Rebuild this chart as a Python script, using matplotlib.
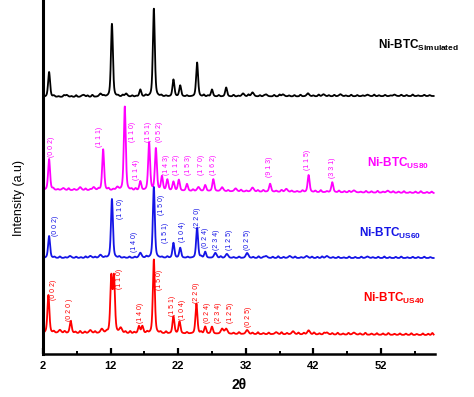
import numpy as np
import matplotlib
matplotlib.use("Agg")
import matplotlib.pyplot as plt

plt.rcParams['mathtext.fontset'] = 'custom'
plt.rcParams['mathtext.rm'] = 'Liberation Sans:bold'
plt.rcParams['mathtext.default'] = 'rm'

# ---------------- data ----------------
x_start, x_end = 2.3, 59.8

sim_pos = [2.9, 5.5, 8.0, 10.5, 12.2, 14.3, 16.4, 18.4, 21.3, 22.3, 24.8, 27.0, 29.1,
           31.6, 33.0, 35.0, 37.5, 41.2, 43.5, 46.0, 50.0, 54.0]
sim_h = [25, 2, 2, 3, 73, 3, 7, 88, 17, 11, 34, 7, 9, 3, 4, 2, 2, 3, 2, 2, 1.5, 1.5]
sim_fine_pos = [3.6, 4.3, 5.1, 6.2, 6.9, 7.7, 8.6, 9.3, 11.0, 13.1, 13.8, 15.2, 15.8,
                17.2, 19.5, 20.2, 23.3, 25.8, 26.4, 28.0, 30.2, 30.9, 32.4, 34.1, 34.7,
                36.2, 37.0, 38.4, 39.2, 40.1, 42.0, 42.8, 44.3, 45.1, 46.8, 47.6, 48.5,
                49.3, 51.0, 51.7, 52.6, 53.4, 55.0, 55.8, 56.7, 57.5, 58.4, 59.2]
sim_fine_h = [1.2, 0.6, 1.5, 0.8, 1.6, 0.7, 1.3, 1.8, 1.0, 0.9, 1.5, 1.1, 0.6, 1.4, 1.2,
              0.8, 1.0, 1.6, 0.9, 1.3, 1.5, 0.7, 1.8, 1.1, 0.6, 1.4, 1.7, 0.9, 1.2, 1.5,
              0.8, 1.6, 1.0, 1.3, 0.7, 1.4, 1.1, 0.8, 1.5, 0.9, 1.2, 0.6, 1.3, 1.0, 1.5,
              0.7, 1.2, 0.9]

us80_pos = [2.9, 5.0, 7.5, 9.5, 10.9, 13.0, 14.1, 16.4, 17.7, 18.7, 19.6, 20.4, 21.3,
            22.1, 23.3, 25.0, 26.0, 27.2, 28.5, 30.5, 33.0, 35.6, 38.0, 41.3, 44.8,
            48.0, 53.0]
us80_h = [31, 2, 3, 3, 41, 3, 84, 9, 48, 42, 14, 11, 9, 11, 7, 4, 6, 12, 4, 3, 4, 8,
          3, 17, 10, 2, 2]
us80_fine_pos = [3.5, 4.2, 5.8, 6.6, 8.3, 9.0, 10.2, 11.7, 12.4, 15.1, 15.7, 24.2,
                 29.4, 31.3, 32.1, 33.8, 34.6, 36.5, 37.3, 38.8, 39.6, 40.4, 42.3, 43.1,
                 44.0, 45.8, 46.6, 47.3, 49.0, 49.8, 50.6, 51.5, 52.3, 53.8, 54.6, 55.4,
                 56.3, 57.1, 57.9, 58.8, 59.5]
us80_fine_h = [1.5, 0.8, 1.8, 1.1, 1.6, 0.9, 1.4, 1.7, 1.0, 1.3, 1.8, 1.5, 1.2, 1.7,
               0.9, 1.4, 1.6, 1.0, 1.8, 1.2, 0.8, 1.5, 1.3, 1.9, 0.9, 1.6, 1.1, 1.4,
               0.8, 1.5, 1.2, 1.7, 0.9, 1.4, 1.1, 1.6, 0.8, 1.3, 1.7, 1.0, 1.4]

us60_pos = [2.9, 6.0, 9.0, 10.5, 12.2, 16.4, 18.4, 21.3, 22.3, 24.8, 26.0, 27.5, 29.2,
            32.2, 35.0, 38.5, 41.0, 44.0, 50.0]
us60_h = [22, 2, 2, 3, 59, 5, 71, 15, 10, 30, 6, 5, 4, 5, 2, 2, 2, 2, 1.5]
us60_fine_pos = [3.7, 4.5, 5.3, 6.9, 7.6, 8.3, 9.7, 11.2, 13.3, 14.0, 14.8, 15.6, 17.3,
                 19.6, 20.4, 23.4, 25.4, 28.3, 30.2, 31.0, 33.1, 33.9, 34.6, 36.0, 36.8,
                 37.6, 39.3, 40.2, 41.8, 42.6, 43.3, 44.9, 45.7, 46.5, 47.3, 48.2, 49.1,
                 50.8, 51.6, 52.5, 53.3, 54.2, 55.0, 55.9, 56.7, 57.5, 58.4, 59.3]
us60_fine_h = [1.0, 1.4, 0.7, 1.2, 0.8, 1.5, 1.1, 0.9, 1.3, 0.7, 1.2, 1.0, 1.4, 0.9,
               1.3, 1.0, 1.2, 1.5, 0.8, 1.3, 1.0, 1.6, 0.9, 1.2, 1.7, 1.0, 1.4, 0.8,
               1.3, 1.1, 1.5, 0.9, 1.2, 0.7, 1.4, 1.0, 1.3, 0.8, 1.2, 1.5, 0.9, 1.1,
               1.4, 0.8, 1.2, 1.0, 1.3, 0.9]

us40_pos = [2.8, 4.5, 6.1, 9.0, 10.7, 12.1, 12.5, 13.5, 16.2, 16.7, 18.4, 21.3, 22.2,
            24.7, 26.0, 27.0, 28.5, 29.1, 32.2, 36.5, 39.0, 41.3, 44.0, 48.0]
us40_h = [38, 3, 12, 3, 4, 55, 55, 5, 7, 7, 74, 17, 12, 30, 7, 7, 5, 5, 4, 2, 3, 4, 2, 2]
us40_fine_pos = [3.6, 5.2, 6.8, 7.5, 8.2, 9.7, 11.4, 14.2, 14.9, 15.5, 17.4, 19.4,
                 20.2, 23.3, 25.4, 30.2, 31.0, 33.0, 33.8, 34.6, 35.4, 37.3, 38.1, 39.8,
                 40.6, 42.1, 42.9, 43.6, 44.8, 45.6, 46.4, 47.2, 48.9, 49.7, 50.6, 51.4,
                 52.3, 53.1, 54.0, 54.8, 55.7, 56.5, 57.3, 58.2, 59.0, 59.6]
us40_fine_h = [1.5, 1.8, 1.2, 2.0, 1.4, 1.7, 1.3, 1.6, 2.0, 1.2, 1.5, 1.4, 1.8, 1.3,
               1.6, 1.1, 1.7, 1.3, 1.8, 1.0, 1.5, 1.9, 1.2, 1.6, 1.4, 1.8, 1.1, 1.5,
               1.3, 1.7, 1.0, 1.6, 1.2, 1.8, 1.1, 1.5, 1.3, 1.7, 1.0, 1.4, 1.2, 1.6,
               0.9, 1.5, 1.2, 2.0]

us80_labels = ["(0 0 2)", "(1 1 1)", "(1 1 0)", "(1 1 4)", "(1 5 1)", "(0 5 2)",
               "(1 4 3)", "(1 1 2)", "(1 5 3)", "(1 7 0)", "(1 6 2)", "(9 1 3)",
               "(1 1 5)", "(3 3 1)"]
us80_lab_x = [3.3, 10.4, 15.2, 15.9, 17.6, 19.3, 20.2, 21.8, 23.5, 25.5, 27.2, 35.5,
              41.1, 44.8]
us80_lab_y = [197, 207, 212, 174, 212, 212, 179, 179, 179, 179, 179, 177, 184, 176]

us60_labels = ["(0 0 2)", "(1 1 0)", "(1 4 0)", "(1 5 0)", "(1 5 1)", "(1 0 4)",
               "(2 2 0)", "(0 2 4)", "(2 3 4)", "(1 2 5)", "(0 2 5)"]
us60_lab_x = [3.9, 13.4, 15.6, 19.6, 20.1, 22.6, 24.8, 26.0, 27.6, 29.6, 32.2]
us60_lab_y = [118, 135, 102, 139, 111, 112, 126, 106, 104, 104, 104]

us40_labels = ["(0 0 2)", "(0 2 0 )", "(1 1 0)", "(1 4 0)", "(1 5 0)", "(1 5 1)",
               "(1 0 4)", "(2 2 0)", "(0 2 4)", "(2 3 4)", "(1 2 5)", "(0 2 5)"]
us40_lab_x = [3.6, 5.9, 13.3, 16.4, 19.3, 21.1, 22.7, 24.7, 26.3, 27.9, 29.7, 32.4]
us40_lab_y = [54, 33, 65, 31, 64, 38, 34, 51, 31, 31, 31, 27]

names = ["Ni-BTC$_{Simulated}$", "Ni-BTC$_{US80}$", "Ni-BTC$_{US60}$", "Ni-BTC$_{US40}$"]
colors = ["black", "#FF00FF", "#1414E6", "#FF0000"]

# ---------------- layout ----------------
offsets = [(257, 258), (164, 161), (96, 96), (21, 19)]  # baseline start/end
name_xy = [(51.5, 305), (50.0, 187), (48.7, 117), (49.4, 52)]


def profile(x, pos, h, fwhm=0.34, eta=0.45, small_w=0.45):
    y = np.zeros_like(x)
    for p, a in zip(pos, h):
        w = fwhm if a >= 6 else small_w
        g = np.exp(-4 * np.log(2) * ((x - p) / w) ** 2)
        l = 1.0 / (1 + 4 * ((x - p) / w) ** 2)
        y += a * ((1 - eta) * g + eta * l)
    return y


x = np.linspace(x_start, x_end, 4000)
series = [(sim_pos, sim_h, sim_fine_pos, sim_fine_h),
          (us80_pos, us80_h, us80_fine_pos, us80_fine_h),
          (us60_pos, us60_h, us60_fine_pos, us60_fine_h),
          (us40_pos, us40_h, us40_fine_pos, us40_fine_h)]

fig = plt.figure(figsize=(4.74, 3.97), dpi=100)
ax = fig.add_axes([43 / 474, 1 - 354 / 397, 392 / 474, 354 / 397])

for (pos, h, fp, fh), (b0, b1), c in zip(series, offsets, colors):
    base = b0 + (b1 - b0) * (x - x_start) / (x_end - x_start)
    y = base + profile(x, pos, h) + profile(x, fp, fh, eta=0.0, small_w=0.28)
    ax.plot(x, y, color=c, lw=1.3)

lab_kw = dict(rotation=90, ha='center', va='bottom', fontsize=5,
              family=['Liberation Sans Narrow', 'Liberation Sans'])
for labs, lx, ly, c in [(us80_labels, us80_lab_x, us80_lab_y, colors[1]),
                        (us60_labels, us60_lab_x, us60_lab_y, colors[2]),
                        (us40_labels, us40_lab_x, us40_lab_y, colors[3])]:
    for t, xx, yy in zip(labs, lx, ly):
        ax.text(xx, yy, t, color=c, **lab_kw)

for n, (nx, ny), c in zip(names, name_xy, colors):
    ax.text(nx, ny, n, color=c, fontsize=8.5, fontweight='bold', ha='left',
            va='baseline', family='Liberation Sans')

ax.set_xlim(2, 60)
ax.set_ylim(0, 354)
ax.set_xticks([2, 12, 22, 32, 42, 52])
ax.set_xticks([7, 17, 27, 37, 47, 57], minor=True)
ax.set_yticks([])
for s in ['top', 'right']:
    ax.spines[s].set_visible(False)
ax.spines['left'].set_linewidth(2.2)
ax.spines['bottom'].set_linewidth(1.8)
ax.tick_params(axis='x', which='major', direction='in', length=4, width=1.6,
               labelsize=8, pad=5)
ax.tick_params(axis='x', which='minor', direction='in', length=2.5, width=1.4)
for lab in ax.get_xticklabels():
    lab.set_fontweight('bold')
    lab.set_family('Liberation Sans')

ax.set_xlabel("2θ", fontsize=10, fontweight='bold', family='Liberation Sans', labelpad=5)
ax.set_ylabel("Intensity (a.u)", fontsize=9,
              family=['Liberation Sans Narrow', 'Liberation Sans'])
ax.yaxis.set_label_coords(-0.045, 0.44)

fig.savefig("out.png", dpi=100)
